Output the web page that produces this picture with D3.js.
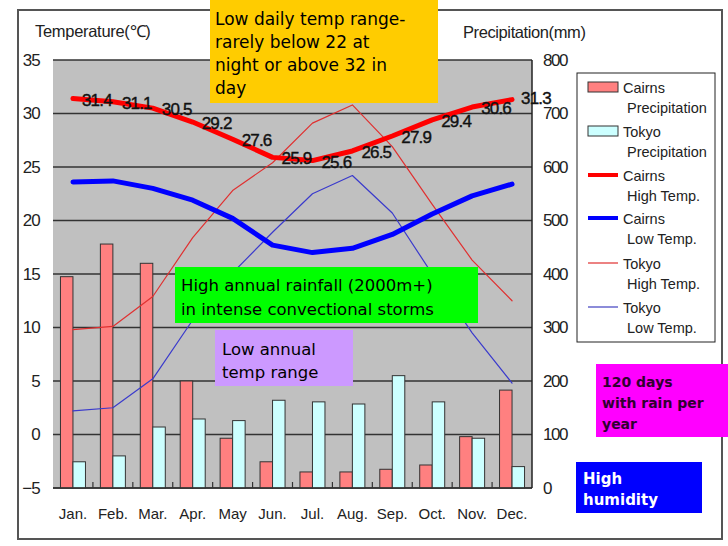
<!DOCTYPE html>
<html>
<head>
<meta charset="utf-8">
<script src="https://cdn.jsdelivr.net/npm/d3@7/dist/d3.min.js"></script>
<style>
  html, body { margin: 0; padding: 0; background: #fff; }
  svg { display: block; }
  text { font-family: "Liberation Sans", Arial, sans-serif; }
  .note { font-family: "DejaVu Sans", sans-serif; }
</style>
</head>
<body>
<svg id="chart" width="728" height="546"></svg>
<script>
// ---- data ----
const months = ["Jan.", "Feb.", "Mar.", "Apr.", "May", "Jun.", "Jul.", "Aug.", "Sep.", "Oct.", "Nov.", "Dec."];
const cairnsPrecip = [395, 456, 420, 200, 93, 49, 30, 30, 35, 43, 96, 183];
const tokyoPrecip  = [49, 60, 114, 129, 126, 164, 161, 157, 210, 161, 93, 40];
const cairnsHigh   = [31.4, 31.1, 30.5, 29.2, 27.6, 25.9, 25.6, 26.5, 27.9, 29.4, 30.6, 31.3];
const cairnsLow    = [23.6, 23.7, 23.0, 21.9, 20.2, 17.7, 17.0, 17.4, 18.7, 20.6, 22.3, 23.4];
const tokyoHigh    = [9.8, 10.1, 12.9, 18.4, 22.8, 25.4, 29.1, 30.8, 26.9, 21.5, 16.3, 12.5];
const tokyoLow     = [2.2, 2.5, 5.2, 10.7, 15.1, 18.9, 22.5, 24.2, 20.7, 15.0, 9.5, 4.8];
const tempTicks    = [-5, 0, 5, 10, 15, 20, 25, 30, 35];
const precipTicks  = [0, 100, 200, 300, 400, 500, 600, 700, 800];
const legendItems  = [
  { l1: "Cairns", l2: "Precipitation", kind: "bar", color: "#ff8080" },
  { l1: "Tokyo",  l2: "Precipitation", kind: "bar", color: "#ccffff" },
  { l1: "Cairns", l2: "High Temp.",    kind: "thick", color: "#ff0000" },
  { l1: "Cairns", l2: "Low Temp.",     kind: "thick", color: "#0000ff" },
  { l1: "Tokyo",  l2: "High Temp.",    kind: "thin", color: "#e03030" },
  { l1: "Tokyo",  l2: "Low Temp.",     kind: "thin", color: "#4040c0" }
];

// ---- layout ----
const svg = d3.select("#chart");
const L = 53, R = 532, T = 60, B = 488;

const x = d3.scaleBand().domain(months).range([L, R]).padding(0);
const pairW = 25;
const xSub = d3.scaleBand().domain(["Cairns", "Tokyo"]).range([0, pairW]);
const yT = d3.scaleLinear().domain([-5, 35]).range([B, T]);
const yP = d3.scaleLinear().domain([0, 800]).range([B, T]);

// outer frame
svg.append("rect").attr("x", 18).attr("y", 10).attr("width", 704).attr("height", 529)
  .attr("fill", "#fff").attr("stroke", "#555").attr("stroke-width", 2);

// plot background
svg.append("rect").attr("x", L).attr("y", T).attr("width", R - L).attr("height", B - T)
  .attr("fill", "#c0c0c0");

// gridlines
svg.append("g").selectAll("line").data(tempTicks).join("line")
  .attr("x1", L).attr("x2", R)
  .attr("y1", d => yT(d)).attr("y2", d => yT(d))
  .attr("stroke", "#333").attr("stroke-width", 1.3);

// bars
const barG = svg.append("g");
months.forEach((m, i) => {
  const off = x(m) + (x.bandwidth() - pairW) / 2;
  [["Cairns", cairnsPrecip[i], "#ff8080"], ["Tokyo", tokyoPrecip[i], "#ccffff"]].forEach(([k, v, c]) => {
    barG.append("rect")
      .attr("x", off + xSub(k)).attr("width", xSub.bandwidth())
      .attr("y", yP(v)).attr("height", B - yP(v))
      .attr("fill", c).attr("stroke", "#333").attr("stroke-width", 1);
  });
});

// bottom ticks at band boundaries
svg.append("g").selectAll("line").data(months.slice(1)).join("line")
  .attr("x1", d => x(d)).attr("x2", d => x(d))
  .attr("y1", B).attr("y2", B - 6)
  .attr("stroke", "#333").attr("stroke-width", 1.2);
svg.append("line").attr("x1", L).attr("x2", R).attr("y1", B).attr("y2", B)
  .attr("stroke", "#333").attr("stroke-width", 1.5);
svg.append("line").attr("x1", R).attr("x2", R).attr("y1", T).attr("y2", B)
  .attr("stroke", "#222").attr("stroke-width", 1.5);

// lines
const cx = i => x(months[i]) + x.bandwidth() / 2;
const lineGen = d3.line().x((d, i) => cx(i)).y(d => yT(d));
function drawLine(data, color, w) {
  svg.append("path").datum(data).attr("d", lineGen)
    .attr("fill", "none").attr("stroke", color).attr("stroke-width", w)
    .attr("stroke-linejoin", "round").attr("stroke-linecap", "round");
}
drawLine(tokyoHigh, "#e03030", 1.2);
drawLine(tokyoLow, "#3a3acc", 1.2);
drawLine(cairnsLow, "#0000ff", 5);
drawLine(cairnsHigh, "#ff0000", 5);

// data labels on Cairns high
svg.append("g").selectAll("text").data(cairnsHigh).join("text")
  .attr("x", (d, i) => cx(i) + 9)
  .attr("y", (d, i) => yT(d) + (i === cairnsHigh.length - 1 ? 4 : 7))
  .attr("font-size", 17).attr("letter-spacing", -0.8)
  .attr("fill", "#111").attr("stroke", "#111").attr("stroke-width", 0.4)
  .text(d => d.toFixed(1));

// axes
const axL = svg.append("g").attr("transform", `translate(${L},0)`)
  .call(d3.axisLeft(yT).tickValues(tempTicks).tickSize(0).tickPadding(13).tickFormat(d3.format("d")));
axL.select(".domain").remove();
axL.selectAll("text").attr("font-size", 17).attr("fill", "#222")
  .attr("font-family", "Liberation Sans, Arial, sans-serif").attr("letter-spacing", -0.8);

const axR = svg.append("g").attr("transform", `translate(${R},0)`)
  .call(d3.axisRight(yP).tickValues(precipTicks).tickSize(0).tickPadding(11).tickFormat(d3.format("d")));
axR.select(".domain").remove();
axR.selectAll("text").attr("font-size", 17).attr("fill", "#222")
  .attr("font-family", "Liberation Sans, Arial, sans-serif").attr("letter-spacing", -1.5);

const axB = svg.append("g").attr("transform", `translate(0,${B})`)
  .call(d3.axisBottom(x).tickSize(0).tickPadding(20));
axB.select(".domain").remove();
axB.selectAll("text").attr("font-size", 15).attr("fill", "#222")
  .attr("font-family", "Liberation Sans, Arial, sans-serif");

// axis titles
svg.append("text").attr("x", 35).attr("y", 37).attr("font-size", 16.5).attr("fill", "#222")
  .attr("letter-spacing", -0.3).text("Temperature(℃)");
svg.append("text").attr("x", 463).attr("y", 38).attr("font-size", 16.5).attr("fill", "#222")
  .attr("letter-spacing", -0.4).text("Precipitation(mm)");

// legend
const lg = svg.append("g");
lg.append("rect").attr("x", 577).attr("y", 73).attr("width", 138).attr("height", 269)
  .attr("fill", "#fff").attr("stroke", "#222").attr("stroke-width", 1);
const rowY = [87, 131, 175, 218, 263, 307];
legendItems.forEach((it, i) => {
  const y0 = rowY[i];
  if (it.kind === "bar") {
    lg.append("rect").attr("x", 588).attr("y", y0 - 5).attr("width", 30).attr("height", 10)
      .attr("fill", it.color).attr("stroke", "#333").attr("stroke-width", 1);
  } else {
    lg.append("line").attr("x1", 588).attr("x2", 618).attr("y1", y0).attr("y2", y0)
      .attr("stroke", it.color).attr("stroke-width", it.kind === "thick" ? 4 : 1.2);
  }
  lg.append("text").attr("x", 623).attr("y", y0 + 6).attr("font-size", 14.5).attr("fill", "#222").text(it.l1);
  lg.append("text").attr("x", 627).attr("y", y0 + 26).attr("font-size", 14.5).attr("fill", "#222").text(it.l2);
});

// annotation boxes
function note(x0, y0, w, h, fill, lines, opts) {
  const g = svg.append("g");
  g.append("rect").attr("x", x0).attr("y", y0).attr("width", w).attr("height", h).attr("fill", fill);
  lines.forEach((t, i) => {
    g.append("text").attr("class", "note")
      .attr("x", opts.tx).attr("y", opts.ty + i * opts.dy)
      .attr("font-size", opts.size).attr("font-weight", opts.weight || "normal")
      .attr("fill", opts.color).attr("font-family", "DejaVu Sans, sans-serif")
      .text(t);
  });
}
note(210, 0, 228, 103, "#ffcc00",
  ["Low daily temp range-", "rarely below 22 at", "night or above 32 in", "day"],
  { tx: 215, ty: 25, dy: 23, size: 17, color: "#000" });
note(175, 267, 303, 56, "#00ff00",
  ["High annual rainfall (2000m+)", "in intense convectional storms"],
  { tx: 181, ty: 291, dy: 24, size: 16.5, color: "#000" });
note(215, 330, 138, 56, "#cc99ff",
  ["Low annual", "temp range"],
  { tx: 222, ty: 355, dy: 23, size: 16.5, color: "#000" });
note(596, 364, 132, 73, "#ff00ff",
  ["120 days", "with rain per", "year"],
  { tx: 602, ty: 387, dy: 21, size: 14, weight: "bold", color: "#300030" });
note(576, 462, 126, 51, "#0000ff",
  ["High", "humidity"],
  { tx: 583, ty: 484, dy: 21, size: 15, weight: "bold", color: "#fff" });
</script>
</body>
</html>
